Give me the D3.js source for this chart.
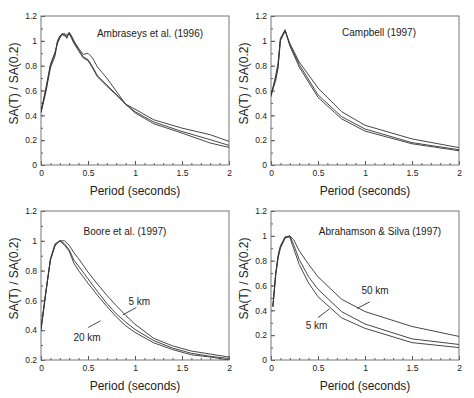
<!DOCTYPE html>
<html>
<head>
<meta charset="utf-8">
<script src="https://cdn.jsdelivr.net/npm/d3@7"></script>
<style>
  body { margin: 0; background: #fff; }
  text { font-family: "Liberation Sans", Arial, Helvetica, sans-serif; fill: #222; }
</style>
</head>
<body>
<script>
// periods (seconds) and normalised spectra SA(T)/SA(0.2)
var ambPeriods = [0, 0.05, 0.1, 0.15, 0.175, 0.2, 0.225, 0.25, 0.275, 0.3, 0.325, 0.35, 0.4, 0.45, 0.5, 0.55, 0.6, 0.7, 0.8, 0.9, 1.0, 1.2, 1.5, 1.8, 2.0];
var amb1 = [0.43, 0.60, 0.80, 0.90, 0.99, 1.03, 1.06, 1.05, 1.02, 1.07, 1.04, 1.00, 0.94, 0.89, 0.90, 0.86, 0.79, 0.70, 0.595, 0.49, 0.45, 0.364, 0.297, 0.244, 0.19];
var amb2 = [0.42, 0.58, 0.78, 0.88, 1.00, 1.04, 1.05, 1.06, 1.03, 1.06, 1.03, 0.99, 0.93, 0.87, 0.85, 0.79, 0.72, 0.645, 0.57, 0.49, 0.43, 0.346, 0.27, 0.204, 0.158];
var amb3 = [0.43, 0.61, 0.81, 0.91, 0.98, 1.02, 1.05, 1.04, 1.05, 1.06, 1.02, 0.98, 0.92, 0.86, 0.84, 0.78, 0.71, 0.635, 0.565, 0.49, 0.42, 0.332, 0.257, 0.177, 0.142];

var campPeriods = [0, 0.05, 0.075, 0.1, 0.15, 0.2, 0.3, 0.5, 0.75, 1.0, 1.5, 2.0];
var camp1 = [0.57, 0.70, 0.80, 1.01, 1.08, 0.98, 0.83, 0.62, 0.43, 0.32, 0.21, 0.14];
var camp2 = [0.56, 0.68, 0.78, 1.00, 1.08, 0.97, 0.81, 0.565, 0.39, 0.29, 0.18, 0.123];
var camp3 = [0.55, 0.72, 0.82, 1.02, 1.09, 0.96, 0.79, 0.545, 0.372, 0.273, 0.171, 0.115];

var boorePeriods = [0, 0.05, 0.1, 0.15, 0.2, 0.25, 0.3, 0.35, 0.4, 0.5, 0.6, 0.7, 0.8, 0.9, 1.0, 1.2, 1.4, 1.6, 1.8, 2.0];
var boore5 = [0.40, 0.64, 0.87, 0.97, 1.00, 1.00, 0.97, 0.92, 0.88, 0.79, 0.71, 0.635, 0.565, 0.50, 0.44, 0.345, 0.295, 0.26, 0.24, 0.22];
var booreMid = [0.41, 0.65, 0.87, 0.97, 1.00, 0.98, 0.94, 0.87, 0.83, 0.745, 0.66, 0.58, 0.51, 0.455, 0.405, 0.33, 0.28, 0.245, 0.225, 0.21];
var boore20 = [0.41, 0.65, 0.88, 0.98, 1.00, 0.97, 0.93, 0.85, 0.80, 0.715, 0.635, 0.56, 0.49, 0.43, 0.385, 0.315, 0.27, 0.235, 0.22, 0.20];

var asPeriods = [0.02, 0.05, 0.075, 0.1, 0.15, 0.2, 0.24, 0.3, 0.4, 0.5, 0.75, 1.0, 1.5, 2.0];
var as50 = [0.43, 0.68, 0.82, 0.90, 0.98, 1.00, 0.97, 0.88, 0.77, 0.67, 0.49, 0.39, 0.27, 0.19];
var asMid = [0.43, 0.69, 0.83, 0.91, 0.99, 1.00, 0.93, 0.81, 0.67, 0.57, 0.39, 0.29, 0.17, 0.125];
var as5 = [0.43, 0.70, 0.84, 0.92, 0.99, 0.99, 0.90, 0.77, 0.62, 0.51, 0.34, 0.255, 0.14, 0.10];

var xTicks = [0, 0.5, 1, 1.5, 2];
var yTicksA = [0, 0.2, 0.4, 0.6, 0.8, 1, 1.2];
var yTicksB = [0.2, 0.4, 0.6, 0.8, 1, 1.2];

var titles = ["Ambraseys et al. (1996)", "Campbell (1997)", "Boore et al. (1997)", "Abrahamson & Silva (1997)"];

// distance labels: [text, textX, textY, lineX1, lineY1, lineX2, lineY2] in data units
var booreLabels = [["5 km", 0.93, 0.572, 0.871, 0.503, 1.014, 0.552],
                   ["20 km", 0.345, 0.325, 0.502, 0.418, 0.633, 0.463]];
var asLabels = [["50 km", 0.962, 0.532, 0.915, 0.415, 1.05, 0.468],
                ["5 km", 0.369, 0.253, 0.50, 0.341, 0.624, 0.413]];

var W = 474, H = 398;
var pw = 188, ph = 149;

var panels = [
  { x0: 41, y0: 16, periods: ambPeriods, series: [amb1, amb2, amb3], ymin: 0, yTicks: yTicksA, title: titles[0], tx: 150, ty: 37, labels: [] },
  { x0: 271, y0: 16, periods: campPeriods, series: [camp1, camp2, camp3], ymin: 0, yTicks: yTicksA, title: titles[1], tx: 379, ty: 36, labels: [] },
  { x0: 41, y0: 211, periods: boorePeriods, series: [boore5, booreMid, boore20], ymin: 0.2, yTicks: yTicksB, title: titles[2], tx: 125, ty: 235, labels: booreLabels },
  { x0: 271, y0: 211, periods: asPeriods, series: [as50, asMid, as5], ymin: 0, yTicks: yTicksA, title: titles[3], tx: 380, ty: 235, labels: asLabels }
];

var svg = d3.select("body")
        .append("svg")
        .attr("width", W)
        .attr("height", H);

panels.forEach(function(p, k) {
  var x = d3.scaleLinear().domain([0, 2]).range([0, pw]);
  var y = d3.scaleLinear().domain([p.ymin, 1.2]).range([ph, 0]);

  var g = svg.append("g").attr("transform", "translate(" + p.x0 + "," + p.y0 + ")");

  g.append("clipPath").attr("id", "clip" + k)
    .append("rect").attr("width", pw).attr("height", ph);

  // minor ticks
  var xMinor = d3.range(0, 2.001, 0.1);
  var yMinor = d3.range(p.ymin, 1.2001, 0.1);
  g.append("g").attr("transform", "translate(0," + ph + ")")
    .call(d3.axisBottom(x).tickValues(xMinor).tickSize(-2).tickFormat(""))
    .call(function(a) { a.select(".domain").remove(); a.selectAll("line").attr("stroke", "#555"); });
  g.append("g")
    .call(d3.axisLeft(y).tickValues(yMinor).tickSize(-2).tickFormat(""))
    .call(function(a) { a.select(".domain").remove(); a.selectAll("line").attr("stroke", "#555"); });

  // major ticks
  g.append("g").attr("transform", "translate(0," + ph + ")")
    .call(d3.axisBottom(x).tickValues(xTicks).tickSize(-4).tickPadding(5).tickFormat(d3.format("")))
    .call(function(a) {
      a.select(".domain").remove();
      a.selectAll("line").attr("stroke", "#555");
      a.selectAll("text").style("font-size", "8.5px").attr("fill", "#222");
    });
  g.append("g")
    .call(d3.axisLeft(y).tickValues(p.yTicks).tickSize(-4).tickPadding(4).tickFormat(d3.format("")))
    .call(function(a) {
      a.select(".domain").remove();
      a.selectAll("line").attr("stroke", "#555");
      a.selectAll("text").style("font-size", "8.5px").attr("fill", "#222");
    });

  g.append("rect")
    .attr("width", pw).attr("height", ph)
    .attr("fill", "none").attr("stroke", "#777").attr("stroke-width", 1);

  var line = d3.line()
    .x(function(d) { return x(d[0]); })
    .y(function(d) { return y(d[1]); });

  g.append("g").attr("clip-path", "url(#clip" + k + ")")
    .selectAll("path")
    .data(p.series)
    .enter()
    .append("path")
    .attr("d", function(s) {
      return line(s.map(function(v, i) { return [p.periods[i], v]; }));
    })
    .attr("fill", "none")
    .attr("stroke", "#333")
    .attr("stroke-width", 0.9);

  g.selectAll("line.lead")
    .data(p.labels)
    .enter()
    .append("line")
    .attr("class", "lead")
    .attr("x1", function(d) { return x(d[3]); })
    .attr("y1", function(d) { return y(d[4]); })
    .attr("x2", function(d) { return x(d[5]); })
    .attr("y2", function(d) { return y(d[6]); })
    .attr("stroke", "#333")
    .attr("stroke-width", 0.9);

  g.selectAll("text.dist")
    .data(p.labels)
    .enter()
    .append("text")
    .attr("class", "dist")
    .attr("x", function(d) { return x(d[1]); })
    .attr("y", function(d) { return y(d[2]); })
    .style("font-size", "10px")
    .text(function(d) { return d[0]; });

  // panel title
  svg.append("text")
    .attr("x", p.tx).attr("y", p.ty)
    .attr("text-anchor", "middle")
    .style("font-size", "10px")
    .text(p.title);

  // axis titles
  svg.append("text")
    .attr("x", p.x0 + pw / 2).attr("y", p.y0 + ph + 30)
    .attr("text-anchor", "middle")
    .style("font-size", "12px")
    .text("Period (seconds)");

  svg.append("text")
    .attr("transform", "translate(" + (p.x0 - 23) + "," + (p.y0 + ph / 2 - 7) + ") rotate(-90)")
    .attr("text-anchor", "middle")
    .style("font-size", "12px")
    .text("SA(T) / SA(0.2)");
});
</script>
</body>
</html>
